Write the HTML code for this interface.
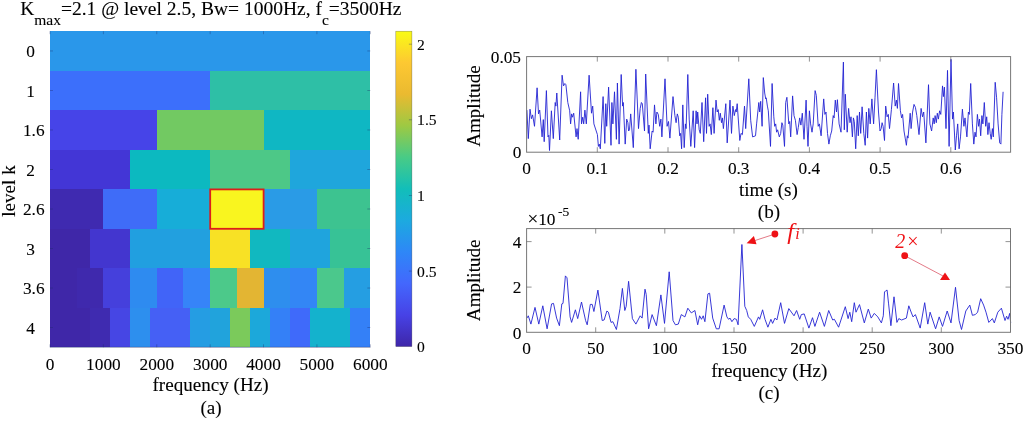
<!DOCTYPE html>
<html><head><meta charset="utf-8"><title>Kurtogram</title>
<style>
html,body{margin:0;padding:0;background:#fff;overflow:hidden;}
svg{display:block;}
text{font-family:"Liberation Serif","Times New Roman",serif;font-size:17.3px;fill:#000;stroke:#000;stroke-width:0.1px;}
.ax line{stroke:#666;stroke-width:0.7;}
.hx line{stroke:#1a2a6a;stroke-width:0.8;opacity:0.45;}
.box{fill:none;stroke:#777;stroke-width:1;}
.sig{fill:none;stroke:#2222d2;stroke-width:0.9;stroke-linejoin:round;}
.lab{font-size:19.1px;}
.red{fill:#ee1216;stroke:none;}
</style></head><body>
<svg width="1025" height="421" viewBox="0 0 1025 421">
<defs><linearGradient id="cb" x1="0" y1="1" x2="0" y2="0"><stop offset="0" stop-color="#3E26A8"/><stop offset="0.1" stop-color="#4742E6"/><stop offset="0.2" stop-color="#4367FD"/><stop offset="0.3" stop-color="#2E87F7"/><stop offset="0.4" stop-color="#1CAADF"/><stop offset="0.5" stop-color="#12BEB9"/><stop offset="0.6" stop-color="#48CB86"/><stop offset="0.7" stop-color="#9DC943"/><stop offset="0.8" stop-color="#EABA30"/><stop offset="0.9" stop-color="#FDC832"/><stop offset="1.0" stop-color="#F9FB15"/></linearGradient></defs>
<rect width="1025" height="421" fill="#fff"/>
<g shape-rendering="crispEdges">
<rect x="50.00" y="31.20" width="320.30" height="39.91" fill="#2A97EA"/>
<rect x="50.00" y="70.71" width="160.55" height="39.91" fill="#3C6FFB"/>
<rect x="210.15" y="70.71" width="160.15" height="39.91" fill="#2EBFA6"/>
<rect x="50.00" y="110.23" width="107.17" height="39.91" fill="#4644E8"/>
<rect x="156.77" y="110.23" width="107.17" height="39.91" fill="#72C962"/>
<rect x="263.53" y="110.23" width="106.77" height="39.91" fill="#0FB7C3"/>
<rect x="50.00" y="149.74" width="80.48" height="39.91" fill="#4336D6"/>
<rect x="130.07" y="149.74" width="80.48" height="39.91" fill="#0CB9C0"/>
<rect x="210.15" y="149.74" width="80.48" height="39.91" fill="#4DC887"/>
<rect x="290.23" y="149.74" width="80.08" height="39.91" fill="#1FA6DC"/>
<rect x="50.00" y="189.25" width="53.78" height="39.91" fill="#3F2AB0"/>
<rect x="103.38" y="189.25" width="53.78" height="39.91" fill="#3F6CF8"/>
<rect x="156.77" y="189.25" width="53.78" height="39.91" fill="#17ADD8"/>
<rect x="210.15" y="189.25" width="53.78" height="39.91" fill="#F9F51F"/>
<rect x="263.53" y="189.25" width="53.78" height="39.91" fill="#2A9BE6"/>
<rect x="316.92" y="189.25" width="53.38" height="39.91" fill="#3DC390"/>
<rect x="50.00" y="228.76" width="40.44" height="39.91" fill="#3F27A8"/>
<rect x="90.04" y="228.76" width="40.44" height="39.91" fill="#4336CF"/>
<rect x="130.07" y="228.76" width="40.44" height="39.91" fill="#219FE0"/>
<rect x="170.11" y="228.76" width="40.44" height="39.91" fill="#22A0DF"/>
<rect x="210.15" y="228.76" width="40.44" height="39.91" fill="#F8E125"/>
<rect x="250.19" y="228.76" width="40.44" height="39.91" fill="#11B8C0"/>
<rect x="290.23" y="228.76" width="40.44" height="39.91" fill="#1FA4DD"/>
<rect x="330.26" y="228.76" width="40.04" height="39.91" fill="#37C296"/>
<rect x="50.00" y="268.28" width="27.09" height="39.91" fill="#3F27A8"/>
<rect x="76.69" y="268.28" width="27.09" height="39.91" fill="#3F29AD"/>
<rect x="103.38" y="268.28" width="27.09" height="39.91" fill="#4540DC"/>
<rect x="130.07" y="268.28" width="27.09" height="39.91" fill="#2E8BF0"/>
<rect x="156.77" y="268.28" width="27.09" height="39.91" fill="#4164F8"/>
<rect x="183.46" y="268.28" width="27.09" height="39.91" fill="#3684F8"/>
<rect x="210.15" y="268.28" width="27.09" height="39.91" fill="#4CC98A"/>
<rect x="236.84" y="268.28" width="27.09" height="39.91" fill="#E3B533"/>
<rect x="263.53" y="268.28" width="27.09" height="39.91" fill="#2E8EEE"/>
<rect x="290.23" y="268.28" width="27.09" height="39.91" fill="#3386F5"/>
<rect x="316.92" y="268.28" width="27.09" height="39.91" fill="#4BC88C"/>
<rect x="343.61" y="268.28" width="26.69" height="39.91" fill="#259EE2"/>
<rect x="50.00" y="307.79" width="20.42" height="39.51" fill="#3F27A8"/>
<rect x="70.02" y="307.79" width="20.42" height="39.51" fill="#3F27A8"/>
<rect x="90.04" y="307.79" width="20.42" height="39.51" fill="#3F2BB0"/>
<rect x="110.06" y="307.79" width="20.42" height="39.51" fill="#4646E4"/>
<rect x="130.07" y="307.79" width="20.42" height="39.51" fill="#2D8FEE"/>
<rect x="150.09" y="307.79" width="20.42" height="39.51" fill="#4560F5"/>
<rect x="170.11" y="307.79" width="20.42" height="39.51" fill="#4560F5"/>
<rect x="190.13" y="307.79" width="20.42" height="39.51" fill="#259DE3"/>
<rect x="210.15" y="307.79" width="20.42" height="39.51" fill="#21A3DC"/>
<rect x="230.17" y="307.79" width="20.42" height="39.51" fill="#7BCA5B"/>
<rect x="250.19" y="307.79" width="20.42" height="39.51" fill="#1CA8DA"/>
<rect x="270.21" y="307.79" width="20.42" height="39.51" fill="#3480F7"/>
<rect x="290.23" y="307.79" width="20.42" height="39.51" fill="#3F6AFA"/>
<rect x="310.24" y="307.79" width="20.42" height="39.51" fill="#14B2CD"/>
<rect x="330.26" y="307.79" width="20.42" height="39.51" fill="#14B2CD"/>
<rect x="350.28" y="307.79" width="20.02" height="39.51" fill="#3480F7"/>
</g>
<rect x="210.2" y="189.4" width="53.4" height="39.4" fill="none" stroke="#dc1f1a" stroke-width="1.8"/>
<line x1="50.0" y1="347.3" x2="370.3" y2="347.3" stroke="#1a2a6a" stroke-width="0.8" opacity="0.6"/>
<g class="hx">
<line x1="50.00" y1="347.3" x2="50.00" y2="344.3"/>
<line x1="50.00" y1="31.2" x2="50.00" y2="34.2"/>
<line x1="103.38" y1="347.3" x2="103.38" y2="344.3"/>
<line x1="103.38" y1="31.2" x2="103.38" y2="34.2"/>
<line x1="156.77" y1="347.3" x2="156.77" y2="344.3"/>
<line x1="156.77" y1="31.2" x2="156.77" y2="34.2"/>
<line x1="210.15" y1="347.3" x2="210.15" y2="344.3"/>
<line x1="210.15" y1="31.2" x2="210.15" y2="34.2"/>
<line x1="263.53" y1="347.3" x2="263.53" y2="344.3"/>
<line x1="263.53" y1="31.2" x2="263.53" y2="34.2"/>
<line x1="316.92" y1="347.3" x2="316.92" y2="344.3"/>
<line x1="316.92" y1="31.2" x2="316.92" y2="34.2"/>
<line x1="370.30" y1="347.3" x2="370.30" y2="344.3"/>
<line x1="370.30" y1="31.2" x2="370.30" y2="34.2"/>
<line x1="50.0" y1="50.96" x2="53.0" y2="50.96"/>
<line x1="370.3" y1="50.96" x2="367.3" y2="50.96"/>
<line x1="50.0" y1="90.47" x2="53.0" y2="90.47"/>
<line x1="370.3" y1="90.47" x2="367.3" y2="90.47"/>
<line x1="50.0" y1="129.98" x2="53.0" y2="129.98"/>
<line x1="370.3" y1="129.98" x2="367.3" y2="129.98"/>
<line x1="50.0" y1="169.49" x2="53.0" y2="169.49"/>
<line x1="370.3" y1="169.49" x2="367.3" y2="169.49"/>
<line x1="50.0" y1="209.01" x2="53.0" y2="209.01"/>
<line x1="370.3" y1="209.01" x2="367.3" y2="209.01"/>
<line x1="50.0" y1="248.52" x2="53.0" y2="248.52"/>
<line x1="370.3" y1="248.52" x2="367.3" y2="248.52"/>
<line x1="50.0" y1="288.03" x2="53.0" y2="288.03"/>
<line x1="370.3" y1="288.03" x2="367.3" y2="288.03"/>
<line x1="50.0" y1="327.54" x2="53.0" y2="327.54"/>
<line x1="370.3" y1="327.54" x2="367.3" y2="327.54"/>
</g>
<text x="20.2" y="15.2" style="font-size:19.5px">K<tspan dy="9.8" style="font-size:15.5px">max</tspan><tspan dy="-9.8" style="font-size:19.5px">=2.1 @ level 2.5, Bw= 1000Hz, f</tspan><tspan dy="9.8" style="font-size:15.5px">c</tspan><tspan dy="-9.8" style="font-size:19.5px">=3500Hz</tspan></text>
<text x="50.0" y="370" text-anchor="middle">0</text>
<text x="103.4" y="370" text-anchor="middle">1000</text>
<text x="156.8" y="370" text-anchor="middle">2000</text>
<text x="210.2" y="370" text-anchor="middle">3000</text>
<text x="263.5" y="370" text-anchor="middle">4000</text>
<text x="316.9" y="370" text-anchor="middle">5000</text>
<text x="370.3" y="370" text-anchor="middle">6000</text>
<text x="30.5" y="57.3" text-anchor="middle">0</text>
<text x="30.5" y="96.8" text-anchor="middle">1</text>
<text x="33.75" y="136.3" text-anchor="middle">1.6</text>
<text x="30.5" y="175.8" text-anchor="middle">2</text>
<text x="33.75" y="215.3" text-anchor="middle">2.6</text>
<text x="30.5" y="254.8" text-anchor="middle">3</text>
<text x="33.75" y="294.3" text-anchor="middle">3.6</text>
<text x="30.5" y="333.8" text-anchor="middle">4</text>
<text transform="translate(14.8,191) rotate(-90)" text-anchor="middle" class="lab">level k</text>
<text x="210.5" y="391" text-anchor="middle" class="lab">frequency (Hz)</text>
<text x="211" y="413.5" text-anchor="middle" class="lab">(a)</text>
<rect x="395.8" y="31.2" width="16.1" height="315.4" fill="url(#cb)" stroke="#333" stroke-width="0.5" stroke-opacity="0.55"/>
<g class="hx">
<text x="417.09999999999997" y="352.3" style="font-size:15.6px">0</text>
<line x1="411.9" y1="271.1" x2="408.9" y2="271.1"/>
<text x="417.09999999999997" y="276.6" style="font-size:15.6px">0.5</text>
<line x1="411.9" y1="195.5" x2="408.9" y2="195.5"/>
<text x="417.09999999999997" y="201.0" style="font-size:15.6px">1</text>
<line x1="411.9" y1="119.8" x2="408.9" y2="119.8"/>
<text x="417.09999999999997" y="125.3" style="font-size:15.6px">1.5</text>
<line x1="411.9" y1="44.2" x2="408.9" y2="44.2"/>
<text x="417.09999999999997" y="49.7" style="font-size:15.6px">2</text>
</g>

<!-- plot (b) -->
<polyline class="sig" points="526.9,110.1 528.3,138.6 530.0,109.2 531.4,118.7 532.6,114.9 534.5,126.3 537.1,87.8 538.5,113.9 539.7,110.1 542.1,136.9 543.3,119.6 544.2,141.7 546.4,90.6 548.0,136.9 548.8,135.3 549.5,150.5 551.4,110.8 553.3,138.6 555.2,102.5 555.9,106.1 556.8,93.0 559.7,140.0 562.1,75.2 563.5,85.9 564.9,83.5 565.9,84.7 567.8,102.5 569.7,110.8 570.6,123.9 571.6,113.9 572.5,117.2 573.7,113.2 576.1,136.9 577.0,128.6 578.2,139.3 580.6,91.8 581.5,123.9 582.7,117.2 583.7,123.9 584.9,110.1 586.3,123.9 589.1,75.2 591.5,113.2 592.7,106.1 593.9,123.9 597.4,134.6 598.4,146.4 599.3,144.1 600.3,148.8 603.1,96.6 604.8,143.4 605.8,103.7 606.7,126.3 608.6,87.1 611.0,145.3 611.9,102.5 612.9,123.9 614.5,91.8 616.4,139.3 617.4,83.0 619.1,144.1 621.2,74.5 622.6,106.1 623.3,102.5 625.2,144.1 626.7,119.1 627.9,122.7 628.6,131.0 629.5,129.8 630.7,113.9 633.3,147.6 635.9,69.3 638.5,128.6 640.2,108.4 641.4,102.5 642.3,103.7 644.5,131.0 645.7,74.0 648.3,133.4 649.0,125.1 650.2,148.8 652.1,131.0 653.1,132.2 654.5,104.9 655.9,123.9 656.9,112.0 658.3,114.4 659.7,126.3 660.9,119.1 661.9,136.9 665.0,78.8 667.1,126.3 668.5,121.5 669.9,138.1 673.0,96.6 674.9,115.6 676.1,122.7 677.3,113.9 678.3,117.2 679.7,135.8 680.6,133.4 681.6,148.8 682.8,104.9 684.2,147.6 685.4,123.9 686.1,128.6 687.8,74.5 689.2,119.1 690.8,146.4 693.2,110.8 694.6,147.6 696.1,110.8 697.0,123.9 697.7,112.0 699.2,129.8 700.3,133.4 702.0,102.5 703.7,141.7 705.6,97.8 706.5,133.4 707.7,94.2 709.1,126.3 710.1,123.9 711.3,134.6 712.9,107.7 714.1,133.4 716.0,100.1 717.2,112.0 718.2,109.6 719.3,120.3 720.3,113.2 721.5,122.7 722.4,117.9 723.4,128.6 725.8,103.7 727.2,142.9 730.0,100.1 731.5,133.4 732.9,106.1 734.3,115.6 735.5,109.6 736.2,112.0 737.2,103.7 739.8,140.5 741.0,133.4 742.4,134.6 744.5,106.1 745.7,128.6 748.8,78.8 750.7,120.3 752.6,136.9 755.5,135.8 756.6,123.9 758.8,102.5 759.7,112.0 760.7,101.3 762.1,126.3 763.3,77.6 764.7,93.0 765.7,98.9 766.2,97.8 767.4,106.1 768.3,110.8 770.5,146.4 772.1,83.5 773.8,116.8 774.7,126.3 775.7,123.9 776.6,132.2 777.6,129.8 779.3,136.9 780.7,133.4 781.9,122.7 782.8,125.1 784.5,146.4 785.7,102.5 786.9,97.3 788.8,123.9 789.7,121.5 790.7,136.9 792.6,95.9 794.0,115.6 795.4,120.3 797.1,134.6 798.3,127.4 799.7,117.9 800.9,125.1 802.3,113.2 804.0,139.3 806.1,100.1 807.0,126.3 808.0,146.4 809.4,110.8 810.6,123.9 812.0,132.2 813.2,123.9 815.1,90.6 816.3,95.4 818.2,126.3 819.4,123.9 821.1,135.8 823.7,98.9 824.9,114.4 826.0,112.0 827.5,133.4 828.9,144.1 830.3,135.8 831.7,131.0 833.2,115.6 834.1,117.9 835.3,100.1 836.5,112.0 837.4,99.7 839.1,123.9 841.0,132.2 843.4,62.1 844.3,129.8 845.3,94.2 847.2,132.2 848.6,108.4 850.0,122.7 851.0,116.8 852.4,136.9 853.4,117.9 854.3,121.5 855.7,148.8 857.2,115.6 858.3,135.8 859.5,112.0 860.7,133.4 862.1,106.8 863.8,133.4 865.2,145.3 866.4,112.0 867.6,138.1 868.8,108.4 870.2,123.9 871.9,98.9 873.6,123.9 875.0,97.8 876.4,69.7 878.5,112.0 880.0,131.0 881.2,128.6 882.1,122.7 883.1,126.3 884.5,140.5 885.7,106.1 887.1,116.8 888.3,114.4 889.5,128.6 891.4,109.6 893.6,83.0 895.2,106.1 896.4,100.1 897.4,108.4 898.5,83.5 900.4,110.8 901.6,117.9 902.6,114.4 904.0,131.0 905.2,138.1 906.4,145.3 907.3,135.8 908.0,138.1 910.2,113.2 911.1,128.6 912.6,112.0 914.0,104.4 915.4,107.3 916.8,115.6 919.0,134.6 921.1,108.4 922.5,116.8 923.7,112.0 925.9,142.9 928.5,84.7 929.9,123.9 931.6,131.0 933.2,117.9 934.2,123.9 935.1,115.6 936.3,122.7 937.3,113.2 938.4,119.1 939.6,110.8 940.8,114.4 942.5,85.9 943.4,96.6 944.4,87.1 946.0,128.6 947.5,70.4 949.1,146.4 951.0,59.3 952.5,119.1 953.4,112.0 955.3,150.0 956.5,135.8 957.7,123.9 959.1,148.8 960.5,136.9 962.4,109.2 963.9,126.3 965.0,117.9 966.9,136.9 968.4,112.0 969.3,114.4 970.7,83.5 972.4,123.9 973.8,144.1 975.0,132.2 976.0,136.9 977.4,114.4 978.6,126.3 979.5,119.1 980.7,135.8 981.9,115.6 982.9,123.9 984.3,102.5 985.7,126.3 986.7,116.8 987.9,134.6 989.0,122.7 990.2,133.4 991.2,139.3 992.4,128.6 993.3,136.9 995.2,82.3 996.6,97.8 998.1,123.9 999.7,142.9 1000.9,144.1 1001.9,114.4 1003.1,91.8"/>
<rect class="box" x="526.6" y="56.6" width="484.0" height="95.6"/>
<g class="ax">
<text x="526.6" y="174.3" text-anchor="middle">0</text>
<line x1="597.3" y1="152.2" x2="597.3" y2="147.2"/>
<line x1="597.3" y1="56.6" x2="597.3" y2="61.6"/>
<text x="597.3" y="174.3" text-anchor="middle">0.1</text>
<line x1="668.0" y1="152.2" x2="668.0" y2="147.2"/>
<line x1="668.0" y1="56.6" x2="668.0" y2="61.6"/>
<text x="668.0" y="174.3" text-anchor="middle">0.2</text>
<line x1="738.7" y1="152.2" x2="738.7" y2="147.2"/>
<line x1="738.7" y1="56.6" x2="738.7" y2="61.6"/>
<text x="738.7" y="174.3" text-anchor="middle">0.3</text>
<line x1="809.4" y1="152.2" x2="809.4" y2="147.2"/>
<line x1="809.4" y1="56.6" x2="809.4" y2="61.6"/>
<text x="809.4" y="174.3" text-anchor="middle">0.4</text>
<line x1="880.1" y1="152.2" x2="880.1" y2="147.2"/>
<line x1="880.1" y1="56.6" x2="880.1" y2="61.6"/>
<text x="880.1" y="174.3" text-anchor="middle">0.5</text>
<line x1="950.8" y1="152.2" x2="950.8" y2="147.2"/>
<line x1="950.8" y1="56.6" x2="950.8" y2="61.6"/>
<text x="950.8" y="174.3" text-anchor="middle">0.6</text>
<text x="521.5" y="158.1" text-anchor="end">0</text>
<text x="521" y="63.4" text-anchor="end">0.05</text>
</g>
<text transform="translate(480,106) rotate(-90)" text-anchor="middle" class="lab">Amplitude</text>
<text x="768.4" y="196.2" text-anchor="middle" class="lab">time (s)</text>
<text x="769" y="218.2" text-anchor="middle" class="lab">(b)</text>

<!-- plot (c) -->
<polyline class="sig" points="526.9,318.1 528.3,315.8 530.9,324.1 535.0,307.4 538.8,324.1 542.8,305.8 547.1,328.8 551.6,303.9 553.5,303.4 556.6,318.1 559.4,325.7 561.8,303.9 563.0,303.4 565.4,275.9 567.0,277.8 570.1,316.9 571.6,322.4 575.4,309.8 577.7,318.6 581.5,302.0 585.6,320.5 587.2,324.8 590.3,304.4 592.2,304.4 593.9,311.5 597.9,290.1 602.2,320.5 604.1,320.0 606.9,311.0 608.4,312.2 611.0,322.4 612.9,321.7 616.4,329.5 620.0,308.6 622.4,288.4 624.8,310.5 626.2,306.3 628.6,281.3 632.4,318.6 635.9,324.1 640.2,315.8 642.1,318.1 645.0,289.2 646.2,294.4 648.6,328.8 652.1,314.6 656.4,325.7 660.9,294.9 664.5,323.4 669.2,271.8 673.0,320.5 675.4,324.8 678.3,324.1 681.3,314.6 684.9,316.9 687.8,308.2 691.3,312.9 694.9,310.5 697.7,324.8 699.6,315.8 701.5,319.3 703.2,315.8 704.9,321.7 707.9,293.9 709.6,293.2 712.7,318.1 716.3,328.8 719.1,328.8 724.1,305.1 726.9,316.9 728.6,319.3 730.0,318.1 731.9,321.7 734.1,318.6 736.4,319.3 738.1,324.8 741.9,244.5 744.8,306.3 746.7,310.5 748.3,316.9 750.7,319.3 754.3,326.4 758.5,316.9 759.7,319.3 762.6,309.8 765.0,319.3 765.0,319.3 767.9,327.2 770.9,319.3 772.6,323.4 775.0,318.1 776.9,320.0 780.7,302.7 784.5,323.4 788.8,308.6 794.0,315.8 796.6,310.5 799.7,319.3 801.3,314.6 804.2,313.9 808.9,328.1 812.5,317.7 814.9,326.4 819.6,312.2 824.4,326.4 828.7,310.5 832.7,320.0 834.4,319.3 838.6,327.2 845.3,306.7 848.1,318.6 849.8,312.2 851.7,321.7 854.3,302.7 856.0,312.2 859.5,304.6 864.3,322.9 868.3,309.1 871.2,318.1 874.3,313.4 877.8,316.9 881.4,322.9 883.3,315.8 884.5,292.0 885.7,290.8 887.1,290.1 888.6,303.9 890.9,325.7 894.0,296.8 896.9,322.4 898.8,318.6 901.6,320.0 906.4,318.1 908.8,305.8 910.7,311.0 913.0,316.9 915.4,314.6 920.2,328.1 924.7,302.7 927.8,324.1 930.1,312.2 935.6,328.8 939.2,316.9 942.5,326.4 947.2,311.0 951.0,322.9 955.5,287.3 959.1,320.5 961.5,329.5 965.8,311.0 969.8,305.1 972.4,315.3 975.3,314.6 977.6,312.2 980.7,298.7 983.6,305.1 986.0,312.2 988.8,322.4 992.4,318.6 994.3,322.9 997.8,312.2 1001.4,308.2 1005.0,320.5 1006.6,316.2 1008.0,319.3 1009.7,313.4 1010.7,322.9"/>
<rect class="box" x="526.6" y="228.6" width="483.9" height="103.7"/>
<g class="ax">
<text x="526.6" y="354.1" text-anchor="middle">0</text>
<line x1="595.7" y1="332.3" x2="595.7" y2="327.3"/>
<line x1="595.7" y1="228.6" x2="595.7" y2="233.6"/>
<text x="595.7" y="354.1" text-anchor="middle">50</text>
<line x1="664.8" y1="332.3" x2="664.8" y2="327.3"/>
<line x1="664.8" y1="228.6" x2="664.8" y2="233.6"/>
<text x="664.8" y="354.1" text-anchor="middle">100</text>
<line x1="734.0" y1="332.3" x2="734.0" y2="327.3"/>
<line x1="734.0" y1="228.6" x2="734.0" y2="233.6"/>
<text x="734.0" y="354.1" text-anchor="middle">150</text>
<line x1="803.1" y1="332.3" x2="803.1" y2="327.3"/>
<line x1="803.1" y1="228.6" x2="803.1" y2="233.6"/>
<text x="803.1" y="354.1" text-anchor="middle">200</text>
<line x1="872.2" y1="332.3" x2="872.2" y2="327.3"/>
<line x1="872.2" y1="228.6" x2="872.2" y2="233.6"/>
<text x="872.2" y="354.1" text-anchor="middle">250</text>
<line x1="941.3" y1="332.3" x2="941.3" y2="327.3"/>
<line x1="941.3" y1="228.6" x2="941.3" y2="233.6"/>
<text x="941.3" y="354.1" text-anchor="middle">300</text>
<text x="1010.4" y="354.1" text-anchor="middle">350</text>
<text x="521.5" y="338.6" text-anchor="end">0</text>
<line x1="526.6" y1="287.1" x2="531.6" y2="287.1"/>
<line x1="1010.5" y1="287.1" x2="1005.5" y2="287.1"/>
<text x="521.5" y="293.0" text-anchor="end">2</text>
<line x1="526.6" y1="241.6" x2="531.6" y2="241.6"/>
<line x1="1010.5" y1="241.6" x2="1005.5" y2="241.6"/>
<text x="521.5" y="247.5" text-anchor="end">4</text>
</g>
<text transform="translate(480,280.3) rotate(-90)" text-anchor="middle" class="lab">Amplitude</text>
<text x="769.3" y="376.6" text-anchor="middle" class="lab">frequency (Hz)</text>
<text x="769" y="399.3" text-anchor="middle" class="lab">(c)</text>
<text x="527.5" y="224.8"><tspan style="font-size:19px">×</tspan>10<tspan dy="-8.6" dx="2.5" style="font-size:13.5px">-5</tspan></text>

<!-- annotations -->
<g class="red">
<line x1="775" y1="234" x2="752" y2="241.5" stroke="#dc5868" stroke-width="0.8"/>
<circle cx="774.9" cy="234" r="3.4"/>
<polygon points="746.6,243.3 753.9,236 756.5,244.3"/>
<text x="787.3" y="238.5" class="red" style="font-style:italic;font-size:24px">f</text><text x="795.2" y="238.7" class="red" style="font-style:italic;font-size:16px">i</text>
<line x1="904.7" y1="255.7" x2="944" y2="276.5" stroke="#dc5868" stroke-width="0.8"/>
<circle cx="904.7" cy="255.7" r="3.4"/>
<polygon points="945,272.5 940,280.1 950,280.1"/>
<text x="895.3" y="247.6" class="red" style="font-style:italic;font-size:20px">2<tspan style="font-style:normal;font-size:20px" dx="2">×</tspan></text>
</g>
</svg>
</body></html>
